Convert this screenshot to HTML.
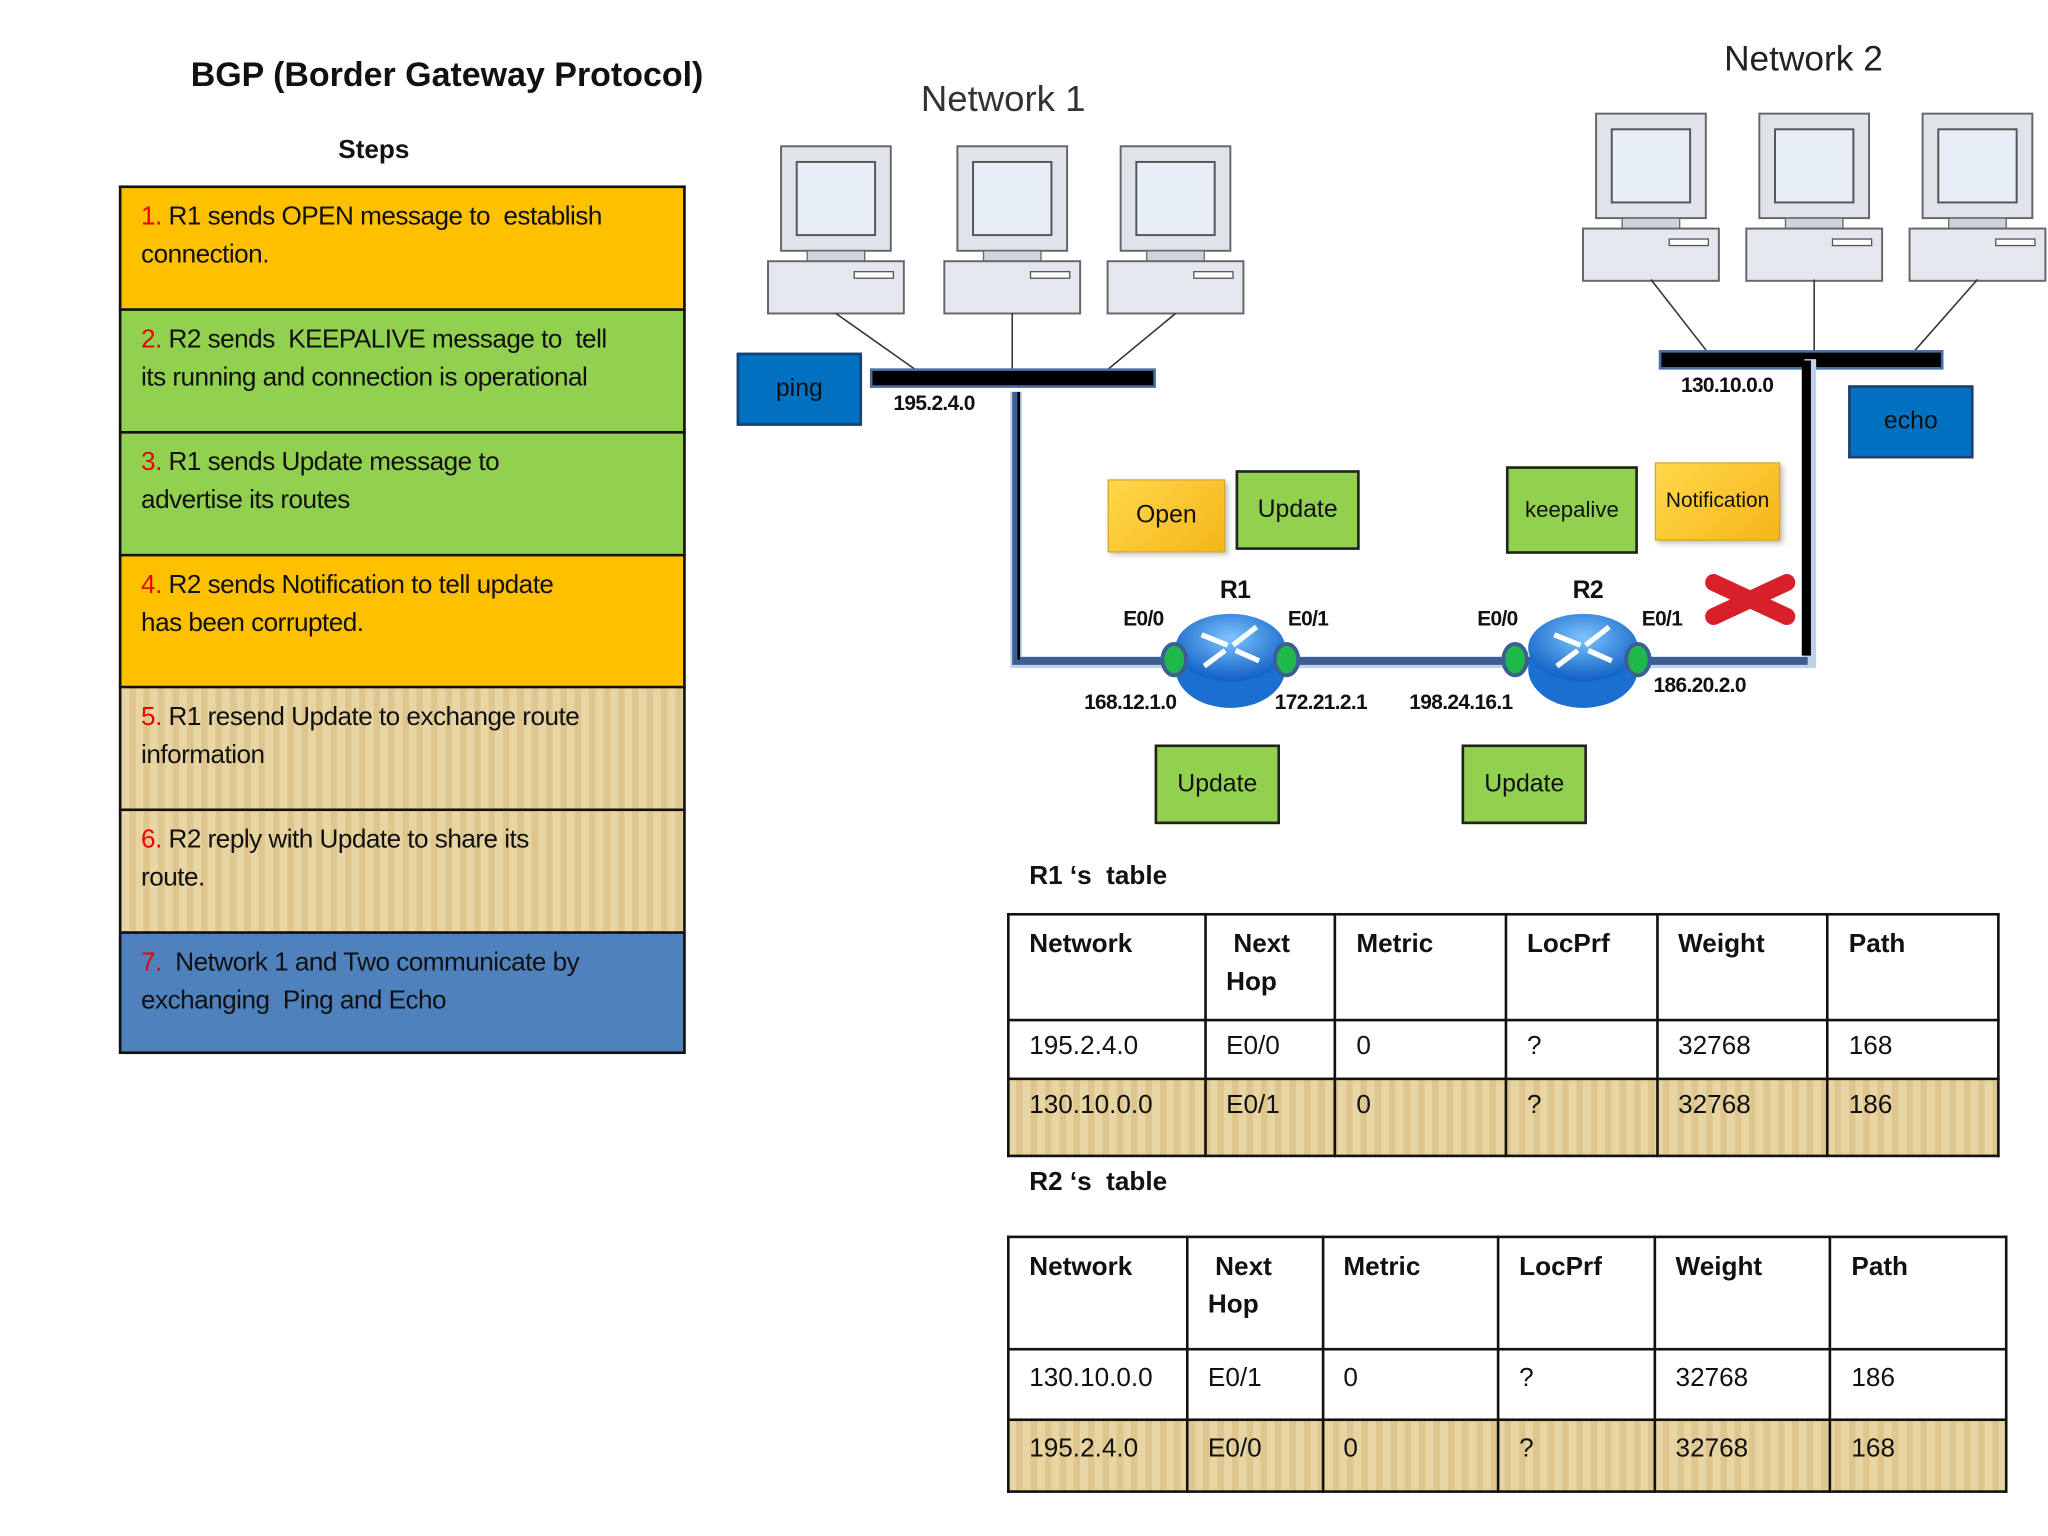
<!DOCTYPE html>
<html><head><meta charset="utf-8"><style>
html,body{margin:0;padding:0;background:#fff;width:2048px;height:1536px;overflow:hidden}
#s{position:absolute;left:0;top:0;width:1568px;height:1176px;transform:scale(1.30612);transform-origin:0 0;font-family:"Liberation Sans",sans-serif;color:#111}
.a{position:absolute}
.step{position:absolute;left:91px;width:434px;border:2px solid #111;border-bottom:none;box-sizing:border-box;padding:8px 0 0 15px;font-size:20px;line-height:29px;letter-spacing:-0.4px;white-space:nowrap}
.step b{color:#e00;font-weight:normal}
.tan{background:#e5cf98;background-image:repeating-linear-gradient(90deg,rgba(255,255,255,.12) 0 6px,rgba(160,120,50,.10) 6px 11px)}
.box{position:absolute;box-sizing:border-box;border:2px solid #222;display:flex;align-items:center;justify-content:center;font-size:19px}
.g{background:#92d050}
.env{position:absolute;box-sizing:border-box;background:linear-gradient(135deg,#ffd84a,#f5b51a);border:1px solid #d9a21c;display:flex;align-items:center;justify-content:center;font-size:19px;box-shadow:2px 2px 4px rgba(0,0,0,.25)}
.lbl{position:absolute;font-size:16px;font-weight:bold;letter-spacing:-0.5px}
table{position:absolute;border-collapse:collapse;font-size:20px}
td{border:2px solid #111;vertical-align:top;padding:8px 0 0 15px;box-sizing:border-box}
tr.h td{font-weight:bold;line-height:29px}
</style></head><body><div id="s">
<div class="a" style="left:146px;top:42px;font-size:26px;font-weight:bold">BGP (Border Gateway Protocol)</div>
<div class="a" style="left:259px;top:104px;font-size:20px;font-weight:bold">Steps</div>

<div class="step" style="top:142px;height:94px;background:#ffc000"><b>1.</b> R1 sends OPEN message to&nbsp; establish<br>connection.</div>
<div class="step" style="top:236px;height:94px;background:#92d050"><b>2.</b> R2 sends&nbsp; KEEPALIVE message to&nbsp; tell<br>its running and connection is operational</div>
<div class="step" style="top:330px;height:94px;background:#92d050"><b>3.</b> R1 sends Update message to<br>advertise its routes</div>
<div class="step" style="top:424px;height:101px;background:#ffc000"><b>4.</b> R2 sends Notification to tell update<br>has been corrupted.</div>
<div class="step tan" style="top:525px;height:94px"><b>5.</b> R1 resend Update to exchange route<br>information</div>
<div class="step tan" style="top:619px;height:94px"><b>6.</b> R2 reply with Update to share its<br>route.</div>
<div class="step" style="top:713px;height:94px;background:#4f81bd;border-bottom:2px solid #111"><b>7.</b>&nbsp; Network 1 and Two communicate by<br>exchanging&nbsp; Ping and Echo</div>

<div class="a" style="left:705px;top:60px;font-size:28px;color:#333">Network 1</div>
<div class="a" style="left:1320px;top:30px;font-size:27px;color:#222">Network 2</div>

<svg class="a" style="left:0;top:0" width="1568" height="1176">
<defs>
<g id="pc">
<rect x="10" y="0" width="84" height="80" fill="#dfe3ea" stroke="#666" stroke-width="1.5"/>
<rect x="22" y="12" width="60" height="56" fill="#e8eef8" stroke="#555" stroke-width="1.5"/>
<rect x="30" y="80" width="44" height="8" fill="#cfd4dc" stroke="#666"/>
<rect x="0" y="88" width="104" height="40" fill="#e4e8ee" stroke="#666" stroke-width="1.5"/>
<rect x="66" y="96" width="30" height="5" fill="#fff" stroke="#555"/>
</g>
<radialGradient id="rg" cx="50%" cy="35%" r="60%"><stop offset="0" stop-color="#7cc4ff"/><stop offset="1" stop-color="#1565c8"/></radialGradient>
</defs>
<use href="#pc" x="588" y="112"/><use href="#pc" x="723" y="112"/><use href="#pc" x="848" y="112"/>
<use href="#pc" x="1212" y="87"/><use href="#pc" x="1337" y="87"/><use href="#pc" x="1462" y="87"/>
<g stroke="#333" stroke-width="1.2">
<line x1="640" y1="240" x2="708" y2="288"/><line x1="775" y1="240" x2="775" y2="288"/><line x1="900" y1="240" x2="842" y2="288"/>
<line x1="1264" y1="214" x2="1310" y2="273"/><line x1="1389" y1="214" x2="1389" y2="273"/><line x1="1514" y1="214" x2="1462" y2="273"/>
</g>
<rect x="667" y="283" width="217" height="13" fill="#000" stroke="#4a6fa8" stroke-width="2"/>
<rect x="1271" y="269" width="216" height="13" fill="#000" stroke="#4a6fa8" stroke-width="2"/>
<polyline points="778,300 778,507 1386,507 1386,275" fill="none" stroke="#c0d2ea" stroke-width="9"/>
<polyline points="778,300 778,506 1384,506" fill="none" stroke="#3d5e94" stroke-width="6"/>
<line x1="1383" y1="276" x2="1383" y2="502" stroke="#000" stroke-width="7"/>
<line x1="780" y1="300" x2="780" y2="505" stroke="#000" stroke-width="2"/>
<g>
<ellipse cx="942" cy="512" rx="42" ry="30" fill="#1a6fd0"/>
<ellipse cx="942" cy="496" rx="42" ry="26" fill="url(#rg)"/>
<g stroke="#fff" stroke-width="4"><line x1="920" y1="486" x2="940" y2="494"/><line x1="964" y1="506" x2="946" y2="498"/><line x1="962" y1="480" x2="944" y2="494"/><line x1="922" y1="510" x2="938" y2="498"/></g>
<ellipse cx="899" cy="505" rx="9" ry="12" fill="#1fb84a" stroke="#3d5e94" stroke-width="3"/>
<ellipse cx="985" cy="505" rx="9" ry="12" fill="#1fb84a" stroke="#3d5e94" stroke-width="3"/>
</g>
<g>
<ellipse cx="1212" cy="512" rx="42" ry="30" fill="#1a6fd0"/>
<ellipse cx="1212" cy="496" rx="42" ry="26" fill="url(#rg)"/>
<g stroke="#fff" stroke-width="4"><line x1="1190" y1="486" x2="1210" y2="494"/><line x1="1234" y1="506" x2="1216" y2="498"/><line x1="1232" y1="480" x2="1214" y2="494"/><line x1="1192" y1="510" x2="1208" y2="498"/></g>
<ellipse cx="1160" cy="505" rx="9" ry="12" fill="#1fb84a" stroke="#3d5e94" stroke-width="3"/>
<ellipse cx="1254" cy="505" rx="9" ry="12" fill="#1fb84a" stroke="#3d5e94" stroke-width="3"/>
</g>
<g stroke="#d8202a" stroke-width="13" stroke-linecap="round"><line x1="1312" y1="446" x2="1368" y2="472"/><line x1="1312" y1="472" x2="1368" y2="446"/></g>
</svg>

<div class="box" style="left:564px;top:270px;width:96px;height:56px;background:#0070c0;border-color:#1f3f6e;color:#111">ping</div>
<div class="box" style="left:1415px;top:295px;width:96px;height:56px;background:#0070c0;border-color:#1f3f6e;color:#111">echo</div>
<div class="lbl" style="left:684px;top:301px">195.2.4.0</div>
<div class="lbl" style="left:1287px;top:287px">130.10.0.0</div>

<div class="env" style="left:848px;top:367px;width:90px;height:56px">Open</div>
<div class="box g" style="left:946px;top:360px;width:95px;height:61px">Update</div>
<div class="box g" style="left:1153px;top:357px;width:101px;height:67px;font-size:17px">keepalive</div>
<div class="env" style="left:1267px;top:354px;width:96px;height:60px;font-size:16px">Notification</div>

<div class="lbl" style="left:934px;top:442px;font-size:19px">R1</div>
<div class="lbl" style="left:1204px;top:442px;font-size:19px">R2</div>
<div class="lbl" style="left:860px;top:466px">E0/0</div>
<div class="lbl" style="left:986px;top:466px">E0/1</div>
<div class="lbl" style="left:1131px;top:466px">E0/0</div>
<div class="lbl" style="left:1257px;top:466px">E0/1</div>
<div class="lbl" style="left:830px;top:530px">168.12.1.0</div>
<div class="lbl" style="left:976px;top:530px">172.21.2.1</div>
<div class="lbl" style="left:1079px;top:530px">198.24.16.1</div>
<div class="lbl" style="left:1266px;top:517px">186.20.2.0</div>

<div class="box g" style="left:884px;top:570px;width:96px;height:61px">Update</div>
<div class="box g" style="left:1119px;top:570px;width:96px;height:61px">Update</div>

<div class="a" style="left:788px;top:660px;font-size:20px;font-weight:bold">R1 ‘s&nbsp; table</div>
<table style="left:771px;top:699px;width:760px">
<colgroup><col style="width:151px"><col style="width:100px"><col style="width:131px"><col style="width:116px"><col style="width:131px"><col style="width:131px"></colgroup>
<tr class="h" style="height:81px"><td>Network</td><td>&nbsp;Next<br>Hop</td><td>Metric</td><td>LocPrf</td><td>Weight</td><td>Path</td></tr>
<tr style="height:45px"><td>195.2.4.0</td><td>E0/0</td><td>0</td><td>?</td><td>32768</td><td>168</td></tr>
<tr class="tan" style="height:59px"><td>130.10.0.0</td><td>E0/1</td><td>0</td><td>?</td><td>32768</td><td>186</td></tr>
</table>

<div class="a" style="left:788px;top:894px;font-size:20px;font-weight:bold">R2 ‘s&nbsp; table</div>
<table style="left:771px;top:946px;width:766px">
<colgroup><col style="width:137px"><col style="width:104px"><col style="width:135px"><col style="width:120px"><col style="width:135px"><col style="width:135px"></colgroup>
<tr class="h" style="height:86px"><td>Network</td><td>&nbsp;Next<br>Hop</td><td>Metric</td><td>LocPrf</td><td>Weight</td><td>Path</td></tr>
<tr style="height:54px"><td style="padding-top:10px">130.10.0.0</td><td style="padding-top:10px">E0/1</td><td style="padding-top:10px">0</td><td style="padding-top:10px">?</td><td style="padding-top:10px">32768</td><td style="padding-top:10px">186</td></tr>
<tr class="tan" style="height:55px"><td style="padding-top:10px">195.2.4.0</td><td style="padding-top:10px">E0/0</td><td style="padding-top:10px">0</td><td style="padding-top:10px">?</td><td style="padding-top:10px">32768</td><td style="padding-top:10px">168</td></tr>
</table>
</div></body></html>
